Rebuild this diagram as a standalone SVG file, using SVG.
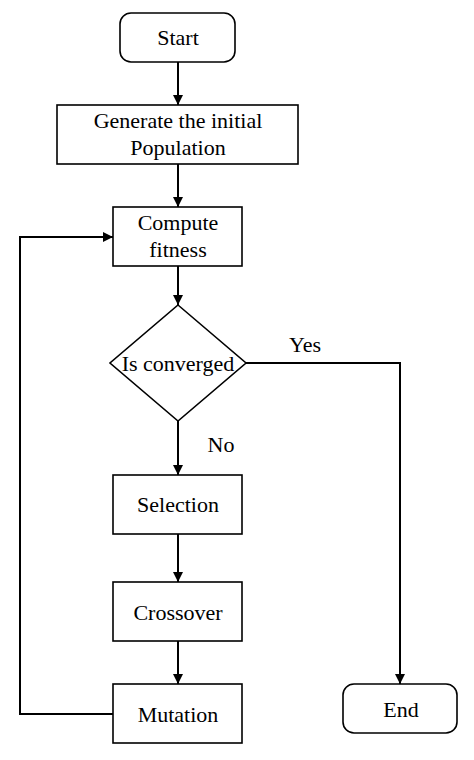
<svg xmlns="http://www.w3.org/2000/svg" width="474" height="760" viewBox="0 0 474 760">
<style>
.box{fill:#fff;stroke:#000;stroke-width:1.6}
.ln{fill:none;stroke:#000;stroke-width:2}
text{font-family:"Liberation Serif","Times New Roman",serif;font-size:22px;fill:#000;text-anchor:middle}
</style>
<defs>
<marker id="ah" markerWidth="10" markerHeight="10" refX="10" refY="5" orient="auto" markerUnits="userSpaceOnUse">
<path d="M0,0 L10,5 L0,10 Z" fill="#000"/>
</marker>
</defs>
<rect width="474" height="760" fill="#fff"/>
<g id="connectors">
<line class="ln" x1="178" y1="62" x2="178" y2="105" marker-end="url(#ah)"/>
<line class="ln" x1="178" y1="164" x2="178" y2="207" marker-end="url(#ah)"/>
<line class="ln" x1="178" y1="266" x2="178" y2="305" marker-end="url(#ah)"/>
<line class="ln" x1="178" y1="421" x2="178" y2="475" marker-end="url(#ah)"/>
<line class="ln" x1="178" y1="534" x2="178" y2="582" marker-end="url(#ah)"/>
<line class="ln" x1="178" y1="641" x2="178" y2="684" marker-end="url(#ah)"/>
<polyline class="ln" points="246,363 400,363 400,684" marker-end="url(#ah)"/>
<polyline class="ln" points="113,714 20,714 20,237 113,237" marker-end="url(#ah)"/>
<text x="305" y="352">Yes</text>
<text x="221" y="452">No</text>
</g>
<g id="start">
<rect class="box" x="120" y="13" width="115" height="49" rx="11"/>
<text x="178" y="45">Start</text>
</g>
<g id="generate">
<rect class="box" x="57" y="105" width="241" height="59"/>
<text x="178" y="128">Generate the initial</text>
<text x="178" y="155">Population</text>
</g>
<g id="compute">
<rect class="box" x="113" y="207" width="129" height="59"/>
<text x="178" y="230">Compute</text>
<text x="178" y="257">fitness</text>
</g>
<g id="converged">
<polygon class="box" points="178,305 246,363 178,421 110,363"/>
<text x="178" y="371">Is converged</text>
</g>
<g id="selection">
<rect class="box" x="113" y="475" width="129" height="59"/>
<text x="178" y="512">Selection</text>
</g>
<g id="crossover">
<rect class="box" x="113" y="582" width="129" height="59"/>
<text x="178" y="620">Crossover</text>
</g>
<g id="mutation">
<rect class="box" x="113" y="684" width="129" height="59"/>
<text x="178" y="722">Mutation</text>
</g>
<g id="end">
<rect class="box" x="343" y="684" width="114" height="49" rx="11"/>
<text x="401" y="717">End</text>
</g>
</svg>
